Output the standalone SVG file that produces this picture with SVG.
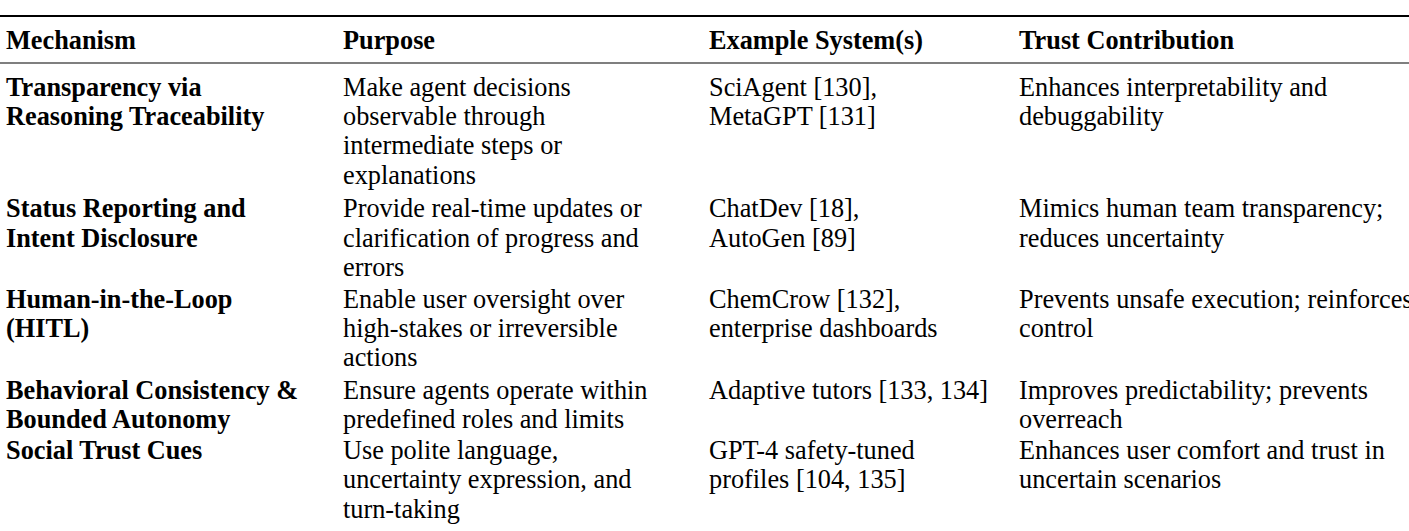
<svg xmlns="http://www.w3.org/2000/svg" width="1409" height="531" viewBox="0 0 1409 531" font-family="'Liberation Serif', 'Times New Roman', 'DejaVu Serif', serif">
<style>
text{font-family:'Liberation Serif','Times New Roman',serif;font-size:26.3px;fill:#000}
.b{font-weight:bold}
line{stroke:#000}
</style>
<rect width="1409" height="531" fill="#fff"/>
<g id="rules">
<line x1="0" y1="16" x2="1409" y2="16" stroke-width="2"/>
<line x1="0" y1="63" x2="1409" y2="63" stroke-width="1.2"/>
</g>
<g id="header">
<text class="b" x="6" y="49">Mechanism</text>
<text class="b" x="343" y="49">Purpose</text>
<text class="b" x="709" y="49">Example System(s)</text>
<text class="b" x="1019" y="49">Trust Contribution</text>
</g>
<g id="row1">
<text class="b" x="6" y="96">Transparency via</text>
<text class="b" x="6" y="125">Reasoning Traceability</text>
<text x="343" y="96">Make agent decisions</text>
<text x="343" y="125">observable through</text>
<text x="343" y="154">intermediate steps or</text>
<text x="343" y="184">explanations</text>
<text x="709" y="96">SciAgent [130],</text>
<text x="709" y="125">MetaGPT [131]</text>
<text x="1019" y="96">Enhances interpretability and</text>
<text x="1019" y="125">debuggability</text>
</g>
<g id="row2">
<text class="b" x="6" y="217">Status Reporting and</text>
<text class="b" x="6" y="247">Intent Disclosure</text>
<text x="343" y="217">Provide real-time updates or</text>
<text x="343" y="247">clarification of progress and</text>
<text x="343" y="276">errors</text>
<text x="709" y="217">ChatDev [18],</text>
<text x="709" y="247">AutoGen [89]</text>
<text x="1019" y="217">Mimics human team transparency;</text>
<text x="1019" y="247">reduces uncertainty</text>
</g>
<g id="row3">
<text class="b" x="6" y="308">Human-in-the-Loop</text>
<text class="b" x="6" y="337">(HITL)</text>
<text x="343" y="308">Enable user oversight over</text>
<text x="343" y="337">high-stakes or irreversible</text>
<text x="343" y="366">actions</text>
<text x="709" y="308">ChemCrow [132],</text>
<text x="709" y="337">enterprise dashboards</text>
<text x="1019" y="308">Prevents unsafe execution; reinforces</text>
<text x="1019" y="337">control</text>
</g>
<g id="row4">
<text class="b" x="6" y="399">Behavioral Consistency &amp;</text>
<text class="b" x="6" y="428">Bounded Autonomy</text>
<text x="343" y="399">Ensure agents operate within</text>
<text x="343" y="428">predefined roles and limits</text>
<text x="709" y="399">Adaptive tutors [133, 134]</text>
<text x="1019" y="399">Improves predictability; prevents</text>
<text x="1019" y="428">overreach</text>
</g>
<g id="row5">
<text class="b" x="6" y="459">Social Trust Cues</text>
<text x="343" y="459">Use polite language,</text>
<text x="343" y="488">uncertainty expression, and</text>
<text x="343" y="518">turn-taking</text>
<text x="709" y="459">GPT-4 safety-tuned</text>
<text x="709" y="488">profiles [104, 135]</text>
<text x="1019" y="459">Enhances user comfort and trust in</text>
<text x="1019" y="488">uncertain scenarios</text>
</g>
</svg>
